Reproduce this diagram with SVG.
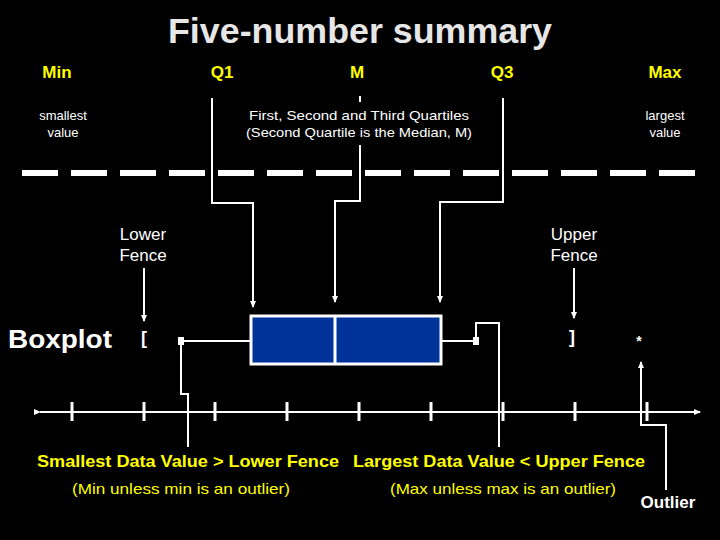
<svg xmlns="http://www.w3.org/2000/svg" width="720" height="540" viewBox="0 0 720 540">
<defs>
<marker id="ah" markerWidth="8" markerHeight="8" refX="6" refY="4" orient="auto" markerUnits="userSpaceOnUse"><path d="M0,1 L7,4 L0,7 Z" fill="#fff"/></marker>
<style>
text{font-family:"Liberation Sans",Arial,sans-serif;}
.y{fill:#ffff00;font-weight:bold;font-size:17px;text-anchor:middle}
.w{fill:#fff;font-size:13px;text-anchor:middle}
.f{fill:#fff;font-size:17px;text-anchor:middle}
.ln{stroke:#fff;stroke-width:2;fill:none}
.ys{fill:#ffff00;font-size:15px;text-anchor:middle}
</style>
</defs>
<rect width="720" height="540" fill="#000"/>
<text x="360" y="43" fill="#e6e6e6" font-size="35" font-weight="bold" text-anchor="middle" textLength="384" lengthAdjust="spacingAndGlyphs">Five-number summary</text>
<g id="labels">
<text class="y" x="57" y="78">Min</text>
<text class="y" x="222" y="78">Q1</text>
<text class="y" x="357" y="78">M</text>
<text class="y" x="502" y="78">Q3</text>
<text class="y" x="665" y="78">Max</text>
<text class="w" x="63" y="120">smallest</text>
<text class="w" x="63" y="137">value</text>
<text class="w" x="359" y="120" textLength="220" lengthAdjust="spacingAndGlyphs">First, Second and Third Quartiles</text>
<text class="w" x="359" y="137" textLength="226" lengthAdjust="spacingAndGlyphs">(Second Quartile is the Median, M)</text>
<text class="w" x="665" y="120">largest</text>
<text class="w" x="665" y="137">value</text>
<text class="f" x="143" y="240">Lower</text>
<text class="f" x="143" y="261">Fence</text>
<text class="f" x="574" y="240">Upper</text>
<text class="f" x="574" y="261">Fence</text>
<text x="60" y="348" fill="#fff" font-size="25" font-weight="bold" text-anchor="middle" textLength="104" lengthAdjust="spacingAndGlyphs">Boxplot</text>
<text class="y" x="188" y="467" textLength="302" lengthAdjust="spacingAndGlyphs">Smallest Data Value &gt; Lower Fence</text>
<text class="y" x="499" y="467" textLength="292" lengthAdjust="spacingAndGlyphs">Largest Data Value &lt; Upper Fence</text>
<text class="ys" x="181" y="494" textLength="218" lengthAdjust="spacingAndGlyphs">(Min unless min is an outlier)</text>
<text class="ys" x="503" y="494" textLength="226" lengthAdjust="spacingAndGlyphs">(Max unless max is an outlier)</text>
<text x="668" y="508" fill="#fff" font-size="17" font-weight="bold" text-anchor="middle">Outlier</text>
</g>
<g id="dashline">
<line x1="22" y1="173" x2="700" y2="173" stroke="#fff" stroke-width="6" stroke-dasharray="36 13"/>
</g>
<g id="boxplot">
<rect x="251" y="316" width="190" height="48" fill="#003399" stroke="#fff" stroke-width="3"/>
<line x1="335" y1="316" x2="335" y2="364" stroke="#fff" stroke-width="3"/>
<line x1="181" y1="341" x2="251" y2="341" class="ln"/>
<line x1="441" y1="341" x2="476" y2="341" class="ln"/>
<rect x="178" y="337" width="6" height="8" fill="#fff"/>
<rect x="473" y="337" width="6" height="8" fill="#fff"/>
<text x="144" y="344" fill="#fff" font-size="18" font-weight="bold" text-anchor="middle">[</text>
<text x="572" y="343" fill="#fff" font-size="18" font-weight="bold" text-anchor="middle">]</text>
<text x="639" y="346" fill="#fff" font-size="14" font-weight="bold" text-anchor="middle">*</text>
</g>
<g id="axis">
<line x1="40" y1="412" x2="700" y2="412" class="ln" marker-start="url(#ah)" marker-end="url(#ah)"/>
<g stroke="#fff" stroke-width="3">
<line x1="72" y1="402" x2="72" y2="421"/><line x1="144" y1="402" x2="144" y2="421"/>
<line x1="215" y1="402" x2="215" y2="421"/><line x1="287" y1="402" x2="287" y2="421"/>
<line x1="359" y1="402" x2="359" y2="421"/><line x1="431" y1="402" x2="431" y2="421"/>
<line x1="503" y1="402" x2="503" y2="421"/><line x1="575" y1="402" x2="575" y2="421"/>
<line x1="647" y1="402" x2="647" y2="421"/>
</g>
</g>
<g id="connectors" class="ln">
<line x1="360" y1="96" x2="360" y2="102"/>
<polyline points="212,98 212,203 253,203 253,307" marker-end="url(#ah)"/>
<polyline points="360,145 360,201 335,201 335,302" marker-end="url(#ah)"/>
<polyline points="503,98 503,202 440,202 440,302" marker-end="url(#ah)"/>
<line x1="144" y1="268" x2="144" y2="321" marker-end="url(#ah)"/>
<line x1="574" y1="268" x2="574" y2="318" marker-end="url(#ah)"/>
<polyline points="181,345 181,394 188,394 188,447"/>
<polyline points="476,337 476,323 499,323 499,447"/>
<polyline points="666,490 666,425 641,425 641,362" marker-end="url(#ah)"/>
</g>
</svg>
